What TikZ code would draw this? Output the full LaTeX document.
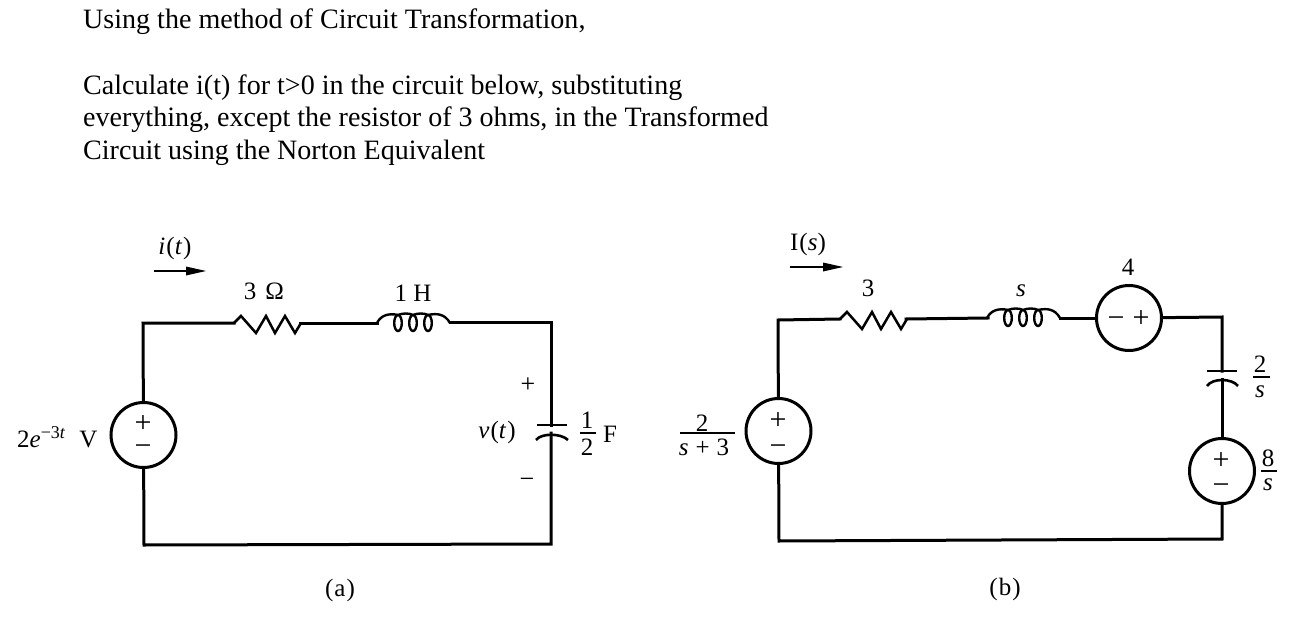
\documentclass[tikz,border=0pt]{standalone}
\usepackage{fontspec}
\setmainfont{Liberation Serif}
\newcommand{\resist}[2]{\draw[zigzag] (#1,#2) -- ++(7,-7) -- ++(15,17) -- ++(10,-17) -- ++(9,17) -- ++(10,-17) -- ++(10,17) -- ++(6,-10);}
\newcommand{\coil}[2]{%
  \begin{scope}[shift={(#1,#2)}]
  \draw[coilline] (0,0) .. controls (4,-8) and (12,-10) .. (21,-8)
    .. controls (26,-10) and (32,-10) .. (36,-8)
    .. controls (41,-10) and (47,-10) .. (51,-8)
    .. controls (60,-10) and (68,-9) .. (73,0);
  \foreach \dx in {21,36,51} \draw[coilline] (\dx,0) ellipse [x radius=3.8,y radius=8];
  \end{scope}}
\tikzset{
  wire/.style={line width=3pt,line join=miter,line cap=rect},
  zigzag/.style={line width=2.5pt,line join=miter},
  coilline/.style={line width=2.4pt},
  src/.style={circle,draw,line width=3pt,minimum size=65pt,inner sep=0pt,fill=white},
  sign/.style={font=\fontsize{30}{30}\selectfont,inner sep=0pt,anchor=base,yshift=-8.7pt},
  lab/.style={inner sep=0pt,font=\fontsize{25}{27}\selectfont},
  body/.style={inner sep=0pt,anchor=base west,font=\fontsize{28.05}{33}\selectfont},
  flow/.style={line width=2.6pt},
  fracbar/.style={line width=1.5pt}
}
\begin{document}
\begin{tikzpicture}[x=1pt,y=-1pt]
\useasboundingbox (0,0) rectangle (1304,623);
% problem text
\node[body] (t1) at (83,29) {Using the method of Circuit Transformation,};
\node[body] (t2) at (83,95) {Calculate i(t) for t>0 in the circuit below, substituting};
\node[body] (t3) at (83,127) {everything, except the resistor of 3 ohms, in the Transformed};
\node[body] (t4) at (83,160) {Circuit using the Norton Equivalent};
% circuit a
\coordinate (atl) at (143,323);
\coordinate (atr) at (551,322);
\coordinate (abr) at (551,544);
\coordinate (abl) at (144,545);
\coordinate (ar1) at (234,323);
\coordinate (ar2) at (300,323);
\coordinate (al1) at (377,323);
\coordinate (al2) at (450,322);
\coordinate (ac1) at (551,425);
\coordinate (ac2) at (551,433);
\node[src] (va) at (143.5,435) {};
\draw[wire] (va) -- (atl) -- (ar1);
\resist{234}{323}
\draw[wire] (ar2) -- (al1);
\coil{377}{323}
\draw[wire] (al2) -- (atr) -- (ac1);
\draw[wire] (ac2) -- (abr) -- (abl) -- (va);
\draw[line width=2.6pt] (537,425) -- (567,425);
\draw[line width=2.6pt] (536,440) .. controls (541,433) and (561,433) .. (568,440);
\node[sign] (pa) at (143,424) {+};
\node[sign] (ma) at (143,447) {−};
\coordinate (aa1) at (154,271);
\coordinate (aa2) at (186,271);
\draw[flow] (aa1) -- (aa2);
\fill (186,266.5) -- (206,271) -- (186,275.5) -- cycle;
\node[lab] (lit) at (175,248) {\textit{i}\kern1pt(\textit{t}\kern1pt)};
\node[lab] (l3o) at (264,291) {3\kern9pt Ω};
\node[lab] (l1h) at (413,293) {1 H};
\node[sign,font=\fontsize{26}{26}\selectfont,yshift=1.2pt] (lp) at (528,385) {+};
\node[sign,font=\fontsize{26}{26}\selectfont,yshift=1.2pt] (lm) at (527,480) {−};
\node[lab] (lvt) at (497,432) {\textit{v}\kern1pt(\textit{t}\kern1pt)};
\node[lab] (f1) at (587,420) {1};
\node[lab] (f2) at (587,447) {2};
\coordinate (fa1) at (580,433);
\coordinate (fa2) at (596,433);
\draw[fracbar] (fa1) -- (fa2);
\node[lab,anchor=west] (fF) at (603,434) {F};
\node[lab,anchor=west] (lsrc) at (17,437) {2\textit{e}\raisebox{9pt}{\fontsize{18}{18}\selectfont −3\textit{t}}\kern14pt V};
\node[lab] (capa) at (340,590) {(\kern1pt a\kern1pt)};
% circuit b
\coordinate (btl) at (778,320);
\coordinate (br1) at (840,319);
\coordinate (br2) at (906,319);
\coordinate (bl1) at (988,318);
\coordinate (btr) at (1222,317);
\coordinate (bc1) at (1222,371);
\coordinate (bc2) at (1222,379);
\coordinate (bbr) at (1222,539);
\coordinate (bbl) at (779,541);
\node[src] (vb) at (778.5,431) {};
\node[src] (v4) at (1129,318) {};
\node[src] (v8) at (1222,471) {};
\draw[wire] (vb) -- (btl) -- (br1);
\resist{840}{319}
\draw[wire] (br2) -- (bl1);
\coil{987}{318}
\draw[wire] (1060,318) -- (v4);
\draw[wire] (v4) -- (btr) -- (bc1);
\draw[wire] (bc2) -- (v8);
\draw[wire] (v8) -- (bbr) -- (bbl) -- (vb);
\draw[line width=2.6pt] (1207,371) -- (1237,371);
\draw[line width=2.6pt] (1207,386) .. controls (1212,378) and (1232,378) .. (1238,386);
\node[sign] (pb) at (778,421) {+};
\node[sign] (mb) at (778,447) {−};
\node[sign] (m4) at (1116,319) {−};
\node[sign] (p4) at (1141,319) {+};
\node[sign] (p8) at (1221,461) {+};
\node[sign] (m8) at (1221,486) {−};
\coordinate (ba1) at (790,267);
\coordinate (ba2) at (823,267);
\draw[flow] (ba1) -- (ba2);
\fill (823,262.5) -- (843,267) -- (823,271.5) -- cycle;
\node[lab] (lis) at (808,244) {I\kern1pt(\textit{s})};
\node[lab] (l3) at (868,288) {3};
\node[lab] (ls) at (1021,291) {\textit{s}};
\node[lab] (l4) at (1128,267) {4};
\node[lab] (n2) at (702,423) {2};
\node[lab] (d2) at (704,447) {\textit{s}\kern7pt +\kern7pt 3};
\coordinate (fb1) at (680,433);
\coordinate (fb2) at (735,433);
\draw[fracbar] (fb1) -- (fb2);
\node[lab] (n22) at (1260,364) {2};
\node[lab] (d22) at (1260,392) {\textit{s}};
\coordinate (fc1) at (1253,377);
\coordinate (fc2) at (1270,377);
\draw[fracbar] (fc1) -- (fc2);
\node[lab] (n8) at (1268,458) {8};
\node[lab] (d8) at (1268,485) {\textit{s}};
\coordinate (fd1) at (1261,471);
\coordinate (fd2) at (1277,471);
\draw[fracbar] (fd1) -- (fd2);
\node[lab] (capb) at (1005,589) {(\kern1pt b\kern1pt)};
\end{tikzpicture}
\end{document}
